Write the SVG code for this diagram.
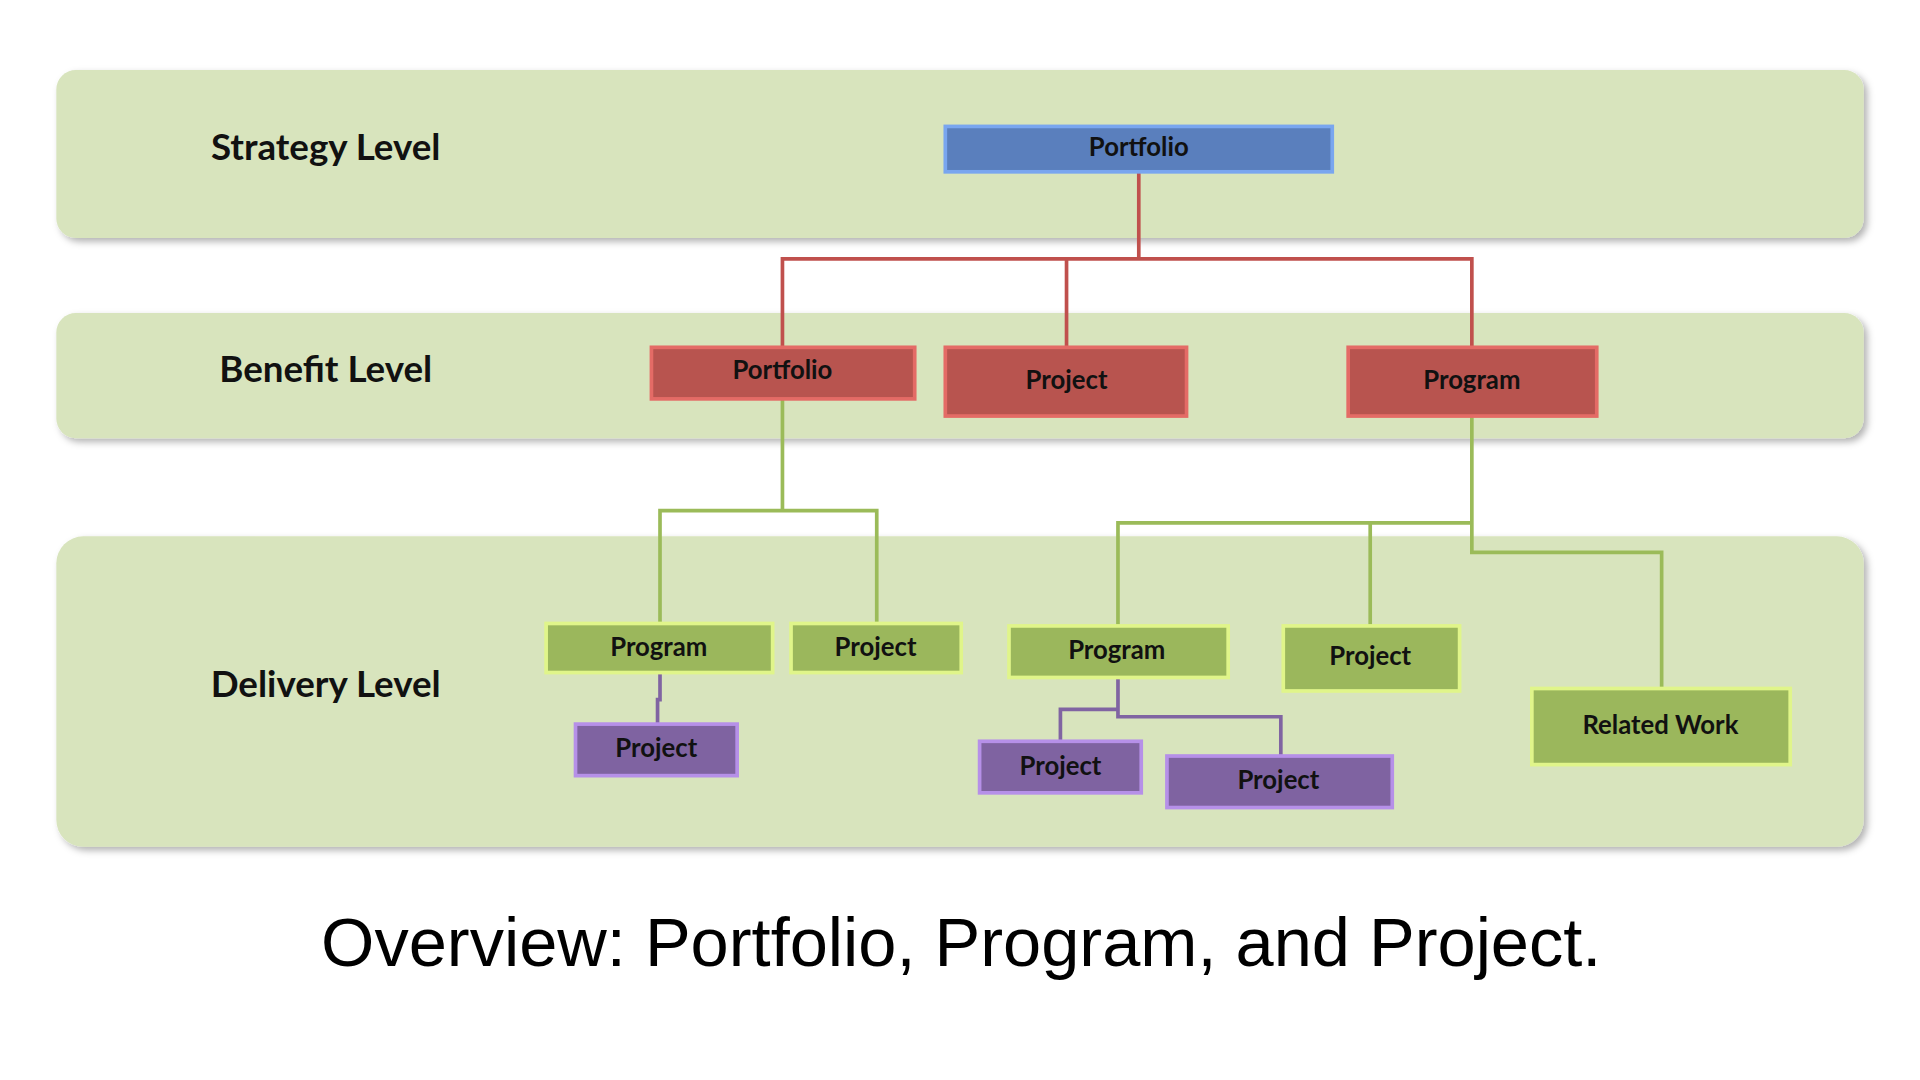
<svg xmlns="http://www.w3.org/2000/svg" width="1920" height="1080" viewBox="0 0 1920 1080">
<defs>
<filter id="sh" x="-5%" y="-10%" width="110%" height="130%"><feDropShadow dx="3" dy="3" stdDeviation="3" flood-color="#000" flood-opacity="0.3"/></filter>
</defs>
<style>
.band{fill:#d8e4bd;filter:url(#sh)}
.lvl{font-family:Lato,"Open Sans",sans-serif;font-weight:bold;font-size:30px;fill:#111;text-anchor:middle}
.nt{font-family:Lato,"Open Sans",sans-serif;font-weight:bold;font-size:21px;fill:#111;text-anchor:middle;dominant-baseline:central}
.blue{fill:#5a7fbd;stroke:#79a6ef;stroke-width:3}
.red{fill:#b8544f;stroke:#e46b66;stroke-width:3}
.grn{fill:#9bb75c;stroke:#e0f58a;stroke-width:3}
.pur{fill:#7f63a1;stroke:#b690e8;stroke-width:3}
.cr{stroke:#c0504d;stroke-width:3;fill:none}
.cg{stroke:#9bbb59;stroke-width:3;fill:none}
.cp{stroke:#8064a2;stroke-width:3;fill:none}
</style>
<rect width="1920" height="1080" fill="#fff"/>
<g transform="scale(1.2245,1.2273)">
<g id="bands">
<rect class="band" x="46" y="57" width="1476" height="137" rx="16"/>
<rect class="band" x="46" y="255" width="1476" height="102" rx="16"/>
<rect class="band" x="46" y="437" width="1476" height="253" rx="22"/>
<text class="lvl" x="266" y="130">Strategy Level</text>
<text class="lvl" x="266" y="311">Benefit Level</text>
<text class="lvl" x="266" y="568">Delivery Level</text>
</g>
<g id="connectors">
<path class="cr" d="M930 140V211M639 283V211H1202V283M871 211V283"/>
<path class="cg" d="M639 325V416M539 508V416H716V508"/>
<path class="cg" d="M1202 339V450H1357V561M913 510V426H1202M1119 426V510"/>
<path class="cp" d="M539 548V570H537V590"/>
<path class="cp" d="M913 552V584H1046V616M913 578H866V604"/>
</g>
<g id="n1"><rect class="blue" x="772" y="103" width="316" height="37"/><text class="nt" x="930" y="119">Portfolio</text></g>
<g id="n2"><rect class="red" x="532" y="283" width="215" height="42"/><text class="nt" x="639" y="301">Portfolio</text></g>
<g id="n3"><rect class="red" x="772" y="283" width="197" height="56"/><text class="nt" x="871" y="309">Project</text></g>
<g id="n4"><rect class="red" x="1101" y="283" width="203" height="56"/><text class="nt" x="1202" y="309">Program</text></g>
<g id="n5"><rect class="grn" x="446" y="508" width="185" height="40"/><text class="nt" x="538" y="526">Program</text></g>
<g id="n6"><rect class="grn" x="646" y="508" width="139" height="40"/><text class="nt" x="715" y="526">Project</text></g>
<g id="n7"><rect class="grn" x="824" y="510" width="179" height="42"/><text class="nt" x="912" y="529">Program</text></g>
<g id="n8"><rect class="grn" x="1048" y="510" width="144" height="53"/><text class="nt" x="1119" y="534">Project</text></g>
<g id="n9"><rect class="grn" x="1251" y="561" width="211" height="62"/><text class="nt" x="1356" y="590">Related Work</text></g>
<g id="n10"><rect class="pur" x="470" y="590" width="132" height="42"/><text class="nt" x="536" y="609">Project</text></g>
<g id="n11"><rect class="pur" x="800" y="604" width="132" height="42"/><text class="nt" x="866" y="623">Project</text></g>
<g id="n12"><rect class="pur" x="953" y="616" width="184" height="42"/><text class="nt" x="1044" y="635">Project</text></g>
<text x="785" y="787" font-family="Liberation Sans,Arial,sans-serif" font-size="56" text-anchor="middle" fill="#000">Overview: Portfolio, Program, and Project.</text>
</g>
</svg>
